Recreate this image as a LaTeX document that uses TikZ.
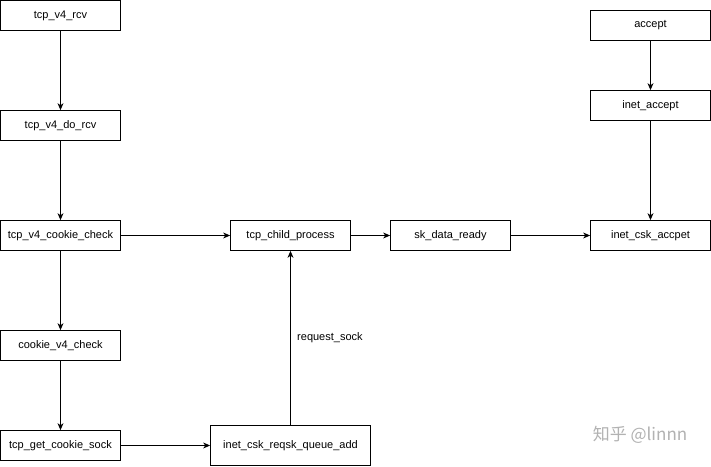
\documentclass[tikz,border=0pt]{standalone}
\usepackage{fontspec}
\setmainfont{Liberation Sans}
\newfontfamily\cjkfont{Noto Sans CJK SC}
\usetikzlibrary{arrows.meta}
\begin{document}
\begin{tikzpicture}[x=1pt,y=-1pt,
  box/.style={draw,fill=white,line width=0.8pt,minimum width=120pt,minimum height=30pt,inner sep=0pt,font=\fontsize{11}{13}\selectfont},
  arr/.style={draw,line width=0.8pt,-{Stealth[length=7pt,width=6pt]}}]
\useasboundingbox[fill=white] (0,0) rectangle (711,466);
\node[box] (rcv) at (60.5,15.5) {tcp\_v4\_rcv};
\node[box] (dorcv) at (60.5,125.5) {tcp\_v4\_do\_rcv};
\node[box] (cc) at (60.5,235.5) {tcp\_v4\_cookie\_check};
\node[box] (c4) at (60.5,345.5) {cookie\_v4\_check};
\node[box] (gcs) at (60.5,445.5) {tcp\_get\_cookie\_sock};
\node[box,minimum width=160pt,minimum height=40pt] (qa) at (290.5,445.5) {inet\_csk\_reqsk\_queue\_add};
\node[box] (tcp) at (290.5,235.5) {tcp\_child\_process};
\node[box] (sk) at (450.5,235.5) {sk\_data\_ready};
\node[box] (ica) at (650.5,235.5) {inet\_csk\_accpet};
\node[box] (acc) at (650.5,25.5) {accept};
\node[box] (ia) at (650.5,105.5) {inet\_accept};
\draw[arr] (rcv) -- (dorcv);
\draw[arr] (dorcv) -- (cc);
\draw[arr] (cc) -- (c4);
\draw[arr] (c4) -- (gcs);
\draw[arr] (gcs) -- (qa);
\draw[arr] (qa) -- node[right=3pt,font=\fontsize{11}{13}\selectfont] (lbl) {request\_sock} (tcp);
\draw[arr] (cc) -- (tcp);
\draw[arr] (tcp) -- (sk);
\draw[arr] (sk) -- (ica);
\draw[arr] (acc) -- (ia);
\draw[arr] (ia) -- (ica);
\node[text=gray!60,font=\cjkfont\fontsize{17}{19}\selectfont] (wm) at (640,435) {知乎 @linnn};
\end{tikzpicture}
\end{document}
